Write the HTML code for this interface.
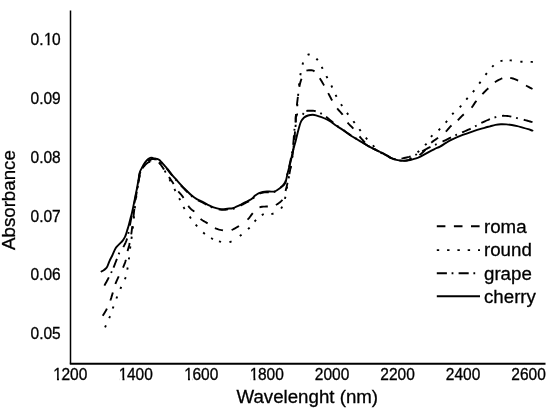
<!DOCTYPE html>
<html><head><meta charset="utf-8"><title>Absorbance spectra</title>
<style>html,body{margin:0;padding:0;background:#fff;}body{width:550px;height:413px;overflow:hidden;}svg{display:block;}</style>
</head><body>
<svg width="550" height="413" viewBox="0 0 550 413">
<g fill="none" stroke="#000" stroke-width="1.90" stroke-linejoin="round">
<path d="M105.06,327.41 105.61,326.15 105.95,325.40 M109.18,318.22 109.76,316.81 110.00,316.18 M112.73,308.53 113.25,307.09 113.48,306.47 M116.40,298.53 116.96,297.09 117.20,296.48 M120.36,288.91 120.98,287.50 121.26,286.90 M124.91,279.23 125.44,277.80 125.64,277.15 M127.30,269.68 127.58,268.19 127.70,267.52 M128.86,259.49 129.06,257.96 129.13,257.31 M130.07,248.59 130.25,247.07 130.34,246.41 M131.45,238.79 131.65,237.29 131.74,236.61 M132.72,228.65 132.89,227.24 132.98,226.46 M133.85,218.49 134.02,216.82 134.07,216.30 M134.84,208.31 134.96,207.10 135.06,206.12 M136.05,198.16 136.27,196.61 136.36,195.98 M137.57,188.05 137.80,186.69 137.94,185.88 M139.22,177.96 139.42,176.61 139.57,175.79 M142.50,168.36 143.17,167.18 143.61,166.47 M149.23,160.87 150.41,160.48 151.35,160.32 M158.93,162.28 159.87,163.15 160.49,163.82 M164.69,170.63 165.35,171.88 165.73,172.56 M169.48,179.33 170.20,180.69 170.51,181.28 M174.40,189.02 175.10,190.39 175.40,190.98 M179.20,198.22 179.88,199.56 180.19,200.19 M183.49,207.05 184.25,208.37 184.60,208.95 M189.66,216.63 190.46,217.77 190.93,218.43 M195.68,224.68 196.59,225.73 197.13,226.34 M203.17,232.48 204.33,233.47 204.85,233.90 M211.07,238.10 212.34,238.77 213.03,239.11 M218.94,241.29 220.28,241.68 221.06,241.88 M229.45,242.10 230.81,241.73 231.55,241.45 M239.84,236.07 240.80,235.30 241.56,234.69 M248.06,229.12 249.20,227.99 249.61,227.55 M254.54,221.50 255.59,220.41 256.09,219.93 M261.81,215.16 262.95,214.46 263.74,214.12 M271.35,213.94 272.71,213.75 273.50,213.52 M281.06,208.54 281.80,207.40 282.19,206.66 M284.93,198.87 285.31,197.33 285.45,196.73 M286.81,188.66 287.06,187.01 287.15,186.48 M288.65,178.43 288.92,177.04 289.06,176.27 M290.56,168.23 290.81,166.78 290.93,166.06 M292.14,157.96 292.32,156.63 292.44,155.78 M293.45,147.66 293.64,146.02 293.71,145.47 M294.57,137.33 294.73,135.65 294.78,135.14 M295.50,126.99 295.64,125.40 295.68,124.79 M296.33,116.63 296.46,114.97 296.51,114.44 M297.24,106.28 297.36,104.92 297.43,104.09 M298.07,95.93 298.20,94.40 298.26,93.74 M298.98,85.58 299.15,84.08 299.23,83.40 M300.32,75.28 300.58,73.77 300.69,73.12 M302.50,64.63 302.90,63.22 303.12,62.52 M307.61,54.97 308.75,54.46 309.69,54.36 M316.40,58.55 317.30,59.67 317.75,60.29 M321.67,66.84 322.40,68.17 322.72,68.77 M326.40,76.12 327.10,77.49 327.41,78.08 M331.31,85.52 331.99,86.89 332.28,87.49 M335.60,94.82 336.31,96.19 336.62,96.77 M341.01,104.17 341.84,105.47 342.20,106.02 M346.95,112.91 347.86,114.15 348.25,114.68 M353.33,121.23 354.26,122.44 354.66,122.98 M359.34,129.22 360.26,130.44 360.66,130.98 M365.80,137.66 366.79,138.83 367.22,139.33 M372.83,145.31 373.86,146.37 374.36,146.89 M380.40,152.41 381.63,153.07 382.36,153.41 M389.58,157.28 390.75,157.88 391.55,158.26 M399.38,160.55 400.77,160.61 401.58,160.61 M409.54,158.95 410.65,158.37 411.47,157.89 M417.57,152.44 418.50,151.51 419.12,150.88 M425.07,145.24 425.90,144.30 426.48,143.55 M430.94,136.98 431.88,135.89 432.42,135.36 M438.55,130.20 439.61,129.20 440.13,128.68 M445.68,122.63 446.68,121.47 447.10,120.95 M452.17,114.42 453.20,113.28 453.66,112.81 M459.73,107.28 460.79,106.19 461.25,105.69 M466.29,99.65 467.27,98.48 467.72,97.97 M472.90,92.05 473.87,90.86 474.28,90.34 M479.25,83.59 480.16,82.34 480.55,81.81 M485.53,74.87 486.47,73.65 486.88,73.14 M492.15,66.91 493.12,65.87 493.66,65.31 M500.44,61.18 501.69,60.85 502.57,60.66 M509.60,60.33 510.91,60.42 511.80,60.49 M520.32,61.59 521.62,61.72 522.51,61.78 M530.60,61.90 531.85,61.90 532.80,61.93" />
<path d="M102.70,315.80 103.38,314.71 104.19,313.44 104.91,312.26 105.64,311.01 106.34,309.72 106.91,308.54 M110.30,300.50 110.76,299.30 111.18,298.11 111.57,296.81 112.00,295.40 112.35,294.24 112.74,292.88 112.85,292.50 M115.40,284.00 115.89,282.65 116.34,281.53 116.88,280.31 117.46,279.08 118.00,277.95 118.64,276.59 118.77,276.31 M123.00,267.60 123.56,266.33 124.04,265.23 124.57,263.95 125.04,262.64 125.41,261.46 125.79,260.08 125.88,259.72 M127.60,251.10 127.91,249.82 128.29,248.43 128.66,247.14 129.03,245.78 129.33,244.54 129.63,243.10 129.66,242.96 M131.20,234.40 131.41,233.05 131.59,231.81 131.78,230.36 131.96,228.91 132.12,227.67 132.29,226.33 132.32,226.08 M133.39,217.23 133.57,215.69 133.72,214.40 133.87,213.04 134.03,211.63 134.20,210.19 134.35,208.88 M135.48,200.04 135.68,198.65 135.93,197.08 136.17,195.56 136.41,194.10 136.65,192.70 136.81,191.75 M138.34,182.97 138.58,181.67 138.81,180.34 139.01,179.07 139.19,177.87 139.42,176.43 139.71,175.06 139.80,174.70 M143.80,166.77 144.62,165.65 145.48,164.63 146.35,163.76 147.35,162.94 148.48,162.26 149.69,161.88 150.24,161.83 M158.96,162.98 159.97,163.77 160.78,164.68 161.48,165.66 162.18,166.74 162.88,167.83 163.58,168.87 164.04,169.59 M169.00,177.00 169.75,178.11 170.53,179.25 171.35,180.44 172.02,181.46 172.72,182.52 173.46,183.69 173.65,184.00 M178.29,191.33 179.13,192.33 180.06,193.34 180.90,194.30 181.69,195.26 182.48,196.35 183.25,197.55 183.48,197.91 M188.23,205.83 188.99,206.84 189.87,207.87 190.83,208.85 191.76,209.74 192.85,210.46 193.84,211.16 194.28,211.58 M200.55,218.93 201.69,219.82 202.73,220.50 203.79,221.11 204.88,221.71 206.01,222.35 207.20,223.10 207.65,223.39 M214.90,228.10 216.28,228.68 217.71,229.16 219.14,229.56 220.52,229.90 221.79,230.17 222.96,230.41 M231.60,230.00 232.74,229.51 234.01,228.87 235.39,228.14 236.45,227.53 237.52,226.90 238.58,226.25 238.98,226.00 M247.50,219.69 248.53,218.68 249.48,217.56 250.28,216.47 251.02,215.42 251.80,214.40 252.60,213.40 252.78,213.17 M259.50,207.30 260.70,207.00 262.06,206.80 263.49,206.67 264.88,206.58 266.14,206.48 267.49,206.43 267.83,206.43 M275.90,205.00 277.12,204.29 278.18,203.59 279.25,202.81 280.28,201.98 281.21,201.13 282.14,200.08 282.37,199.75 M285.57,190.99 285.86,189.77 286.15,188.60 286.45,187.39 286.76,186.10 287.09,184.71 287.37,183.48 287.52,182.82 M289.38,174.09 289.66,172.63 289.88,171.43 290.11,170.20 290.33,168.95 290.55,167.67 290.78,166.35 290.86,165.83 M292.24,157.01 292.44,155.60 292.66,154.04 292.87,152.48 293.07,150.91 293.27,149.34 293.35,148.68 M294.32,139.81 294.47,138.22 294.57,137.01 294.68,135.77 294.79,134.52 294.89,133.26 294.99,131.99 295.03,131.44 M295.66,122.53 295.73,121.21 295.80,119.93 295.87,118.65 295.93,117.38 296.00,116.12 296.07,114.86 296.11,114.15 M296.87,105.25 297.04,103.77 297.23,102.14 297.43,100.54 297.63,98.96 297.83,97.41 297.90,96.92 M299.35,86.84 299.60,85.50 299.91,84.06 300.24,82.78 300.57,81.62 300.99,80.28 301.43,79.01 301.52,78.74 M306.43,70.69 307.72,70.35 308.95,70.23 310.15,70.18 311.35,70.16 312.55,70.32 313.75,70.86 314.46,71.39 M319.80,78.20 320.54,79.40 321.17,80.44 321.82,81.54 322.49,82.68 323.18,83.88 323.88,85.11 324.06,85.44 M328.20,93.10 328.86,94.34 329.47,95.51 330.06,96.66 330.66,97.80 331.29,98.97 332.00,100.20 332.18,100.50 M337.20,108.40 338.07,109.50 338.94,110.49 339.81,111.41 340.68,112.33 341.54,113.31 342.40,114.40 342.66,114.77 M347.54,122.57 348.49,123.69 349.38,124.60 350.28,125.45 351.20,126.32 352.16,127.28 353.16,128.40 353.35,128.62 M359.50,136.30 360.35,137.35 361.18,138.38 362.08,139.43 363.07,140.50 364.08,141.62 364.97,142.58 365.01,142.63 M371.94,147.97 373.23,148.65 374.40,149.27 375.55,149.85 376.70,150.40 377.84,150.93 378.97,151.49 379.45,151.73 M387.21,155.86 388.35,156.51 389.44,157.11 390.75,157.78 391.97,158.35 393.13,158.85 394.26,159.29 394.78,159.47 M403.43,160.76 404.65,160.65 406.03,160.45 407.40,160.20 408.75,159.90 410.10,159.54 411.45,159.11 411.63,159.04 M419.43,155.04 420.61,154.18 421.76,153.27 422.86,152.30 423.90,151.29 424.87,150.16 425.52,149.32 M431.22,142.65 432.20,141.88 433.28,141.13 434.46,140.33 435.50,139.63 436.61,138.84 437.83,137.92 438.05,137.76 M445.80,131.60 446.81,130.63 447.63,129.72 448.52,128.64 449.41,127.56 450.23,126.67 451.22,125.72 451.51,125.46 M457.80,120.20 458.78,119.27 459.65,118.39 460.48,117.52 461.33,116.63 462.25,115.70 463.30,114.70 463.76,114.29 M471.50,107.60 472.42,106.55 473.14,105.57 473.90,104.38 474.65,103.17 475.37,102.15 476.27,101.03 476.44,100.83 M482.40,94.20 483.35,93.18 484.23,92.26 485.07,91.39 485.92,90.54 486.82,89.65 487.80,88.70 488.30,88.22 M494.90,82.20 495.98,81.44 497.03,80.79 498.31,80.10 499.52,79.51 500.68,79.00 501.95,78.47 502.33,78.33 M510.20,77.80 511.49,78.11 512.91,78.50 514.11,78.88 515.36,79.34 516.64,79.89 517.98,80.55 518.09,80.61 M526.00,85.50 527.29,86.23 528.57,86.93 529.79,87.58 530.90,88.16 532.01,88.74 532.50,89.00" />
<path d="M104.40,285.60 105.10,284.33 105.79,283.05 106.41,281.92 107.02,280.78 107.60,279.70 108.29,278.39 108.85,277.32 M111.07,272.95 111.69,271.68 111.85,271.33 M113.50,267.60 114.03,266.29 114.61,264.83 115.06,263.67 115.51,262.49 115.96,261.34 116.52,259.88 116.92,258.84 M118.61,254.24 119.17,253.04 119.40,252.63 M123.30,247.10 123.90,246.03 124.48,244.91 125.04,243.77 125.57,242.61 126.06,241.45 126.50,240.30 126.89,239.16 127.08,238.52 M128.24,233.76 128.53,232.48 128.63,232.00 M129.87,225.55 130.10,224.25 130.36,222.85 130.62,221.46 130.87,220.13 131.12,218.91 131.41,217.61 131.69,216.39 131.70,216.33 M132.74,211.54 133.07,209.90 133.09,209.78 M134.36,203.34 134.60,202.09 134.90,200.50 135.19,199.02 135.46,197.55 135.72,196.11 135.97,194.70 136.08,194.10 M136.95,189.28 137.22,187.81 137.28,187.51 M138.50,181.06 138.71,179.86 138.91,178.61 139.09,177.40 139.32,175.95 139.61,174.56 139.99,173.24 140.47,172.00 140.51,171.91 M142.83,167.59 143.55,166.37 143.75,166.04 M147.90,160.99 148.86,160.23 149.92,159.55 151.07,159.06 152.33,158.95 153.56,159.14 154.84,159.26 156.07,159.40 156.67,159.55 M160.79,162.01 161.61,162.91 162.00,163.34 M166.35,168.25 167.15,169.21 167.97,170.21 168.88,171.37 169.66,172.38 170.46,173.43 171.28,174.49 172.10,175.51 172.19,175.62 M175.41,179.31 176.38,180.38 176.62,180.64 M181.01,185.52 182.00,186.59 183.01,187.64 184.03,188.68 185.06,189.70 186.08,190.71 187.10,191.70 187.62,192.21 M191.13,195.63 192.10,196.46 192.50,196.79 M197.98,200.37 199.16,200.87 200.27,201.38 201.34,201.92 202.48,202.50 203.64,203.10 204.79,203.70 205.94,204.33 206.38,204.58 M210.74,206.82 212.01,207.36 212.40,207.51 M218.68,209.38 219.99,209.62 221.30,209.81 222.61,209.90 223.92,209.85 225.23,209.69 226.59,209.50 227.83,209.36 228.01,209.35 M232.88,208.88 234.13,208.50 234.59,208.30 M240.53,205.53 241.77,204.91 242.96,204.29 244.14,203.67 245.25,203.08 246.42,202.49 247.62,201.92 248.77,201.34 248.91,201.26 M252.99,198.56 253.90,197.61 254.22,197.25 M259.60,193.58 260.83,193.19 262.09,192.86 263.32,192.59 264.54,192.40 265.77,192.27 267.00,192.20 268.27,192.23 268.84,192.27 M273.71,192.12 274.98,191.67 275.38,191.46 M280.61,187.51 281.52,186.69 282.43,185.82 283.34,184.83 284.08,183.85 284.82,182.75 285.43,181.58 285.87,180.37 285.99,179.98 M287.11,175.21 287.43,173.81 287.51,173.45 M289.05,167.07 289.37,165.68 289.66,164.37 289.95,163.06 290.23,161.73 290.51,160.38 290.79,159.03 291.02,157.88 M291.99,153.08 292.24,151.71 292.31,151.31 M293.15,144.80 293.28,143.50 293.39,142.29 293.53,140.74 293.66,139.27 293.78,137.84 293.87,136.43 293.94,135.43 M294.35,130.55 294.51,129.24 294.57,128.76 M295.70,122.30 295.72,121.09 295.65,119.81 295.58,118.57 295.61,117.35 295.80,116.11 296.28,114.94 297.44,114.38 298.02,114.37 M302.64,114.59 303.40,113.61 303.72,113.16 M306.38,110.98 307.73,110.77 309.03,110.71 310.33,110.70 311.64,110.68 312.92,110.71 314.19,110.90 315.51,111.25 315.69,111.31 M320.25,113.08 321.39,113.67 321.84,113.92 M326.00,116.80 327.05,117.61 328.20,118.53 329.39,119.49 330.54,120.45 331.60,121.34 332.69,122.26 333.26,122.77 M337.03,125.87 338.15,126.58 338.55,126.83 M343.44,130.11 344.44,130.83 345.59,131.65 346.73,132.46 347.85,133.27 348.98,134.08 350.10,134.88 351.09,135.57 M355.29,138.09 356.49,138.77 356.86,138.98 M361.88,142.04 363.03,142.74 364.17,143.44 365.32,144.15 366.47,144.84 367.62,145.52 368.75,146.15 369.88,146.73 369.99,146.79 M374.39,148.94 375.53,149.50 376.01,149.73 M381.28,152.36 382.51,152.99 383.64,153.59 384.85,154.23 386.15,154.96 387.24,155.59 388.35,156.22 389.44,156.82 389.52,156.86 M393.99,158.88 395.19,159.26 395.71,159.38 M401.48,158.58 402.78,158.32 404.14,158.02 405.46,157.73 406.67,157.45 407.88,157.17 409.19,156.84 410.46,156.46 410.62,156.41 M415.29,154.92 416.60,154.40 416.95,154.24 M422.26,151.32 423.42,150.67 424.62,149.99 425.86,149.28 427.10,148.58 428.33,147.91 429.50,147.30 430.50,146.82 M435.01,144.88 436.17,144.38 436.66,144.17 M442.56,141.62 443.90,140.98 445.29,140.30 446.73,139.59 448.14,138.88 449.48,138.20 450.70,137.60 450.99,137.46 M455.38,135.28 456.68,134.69 457.02,134.54 M462.09,132.45 463.47,131.85 464.87,131.25 466.34,130.62 467.79,129.98 469.17,129.37 470.40,128.80 470.69,128.66 M475.05,126.41 476.24,125.75 476.62,125.54 M481.30,122.90 482.60,122.29 483.70,121.79 484.86,121.27 486.05,120.75 487.22,120.25 488.34,119.78 489.70,119.22 489.91,119.14 M494.52,117.47 495.75,117.13 496.26,117.00 M502.00,115.90 503.37,115.81 504.64,115.83 506.03,115.92 507.38,116.03 508.59,116.14 509.94,116.34 511.30,116.60 511.34,116.61 M516.08,117.87 517.30,118.20 517.82,118.33 M523.73,119.78 525.00,120.11 526.19,120.41 527.48,120.76 528.78,121.12 530.08,121.49 531.32,121.86 532.50,122.20" />
<path d="M101.5,271.5 C101.9,271.2 103.2,270.6 104.0,270.0 C104.8,269.4 105.6,268.9 106.2,268.2 C106.8,267.5 107.0,267.0 107.6,265.8 C108.2,264.6 108.8,262.6 109.6,260.8 C110.4,259.0 111.5,257.1 112.5,255.0 C113.5,252.9 114.5,250.0 115.6,248.2 C116.7,246.4 118.1,245.5 119.3,244.2 C120.5,242.9 121.9,241.6 122.9,240.3 C123.9,239.0 124.5,237.8 125.1,236.6 C125.7,235.4 126.0,234.2 126.4,233.0 C126.8,231.8 127.1,230.7 127.5,229.4 C127.9,228.1 128.3,226.9 128.8,225.0 C129.3,223.1 130.1,220.1 130.6,218.0 C131.1,215.9 131.3,215.8 132.0,212.7 C132.7,209.6 133.9,203.6 134.7,199.6 C135.5,195.6 136.3,192.0 136.9,188.7 C137.5,185.4 138.0,182.7 138.5,180.0 C139.0,177.3 139.0,174.7 139.7,172.5 C140.3,170.3 141.5,168.7 142.4,167.0 C143.3,165.3 144.3,163.5 145.3,162.2 C146.3,160.9 147.2,159.8 148.2,159.0 C149.2,158.2 150.2,157.7 151.1,157.6 C152.0,157.5 152.7,158.1 153.5,158.3 C154.3,158.5 155.3,158.3 156.2,158.6 C157.1,158.8 158.2,159.2 159.1,159.8 C159.9,160.4 160.5,161.1 161.3,162.0 C162.2,162.9 163.1,164.0 164.2,165.2 C165.2,166.4 166.2,167.5 167.6,169.2 C169.0,170.9 170.8,173.4 172.4,175.3 C174.0,177.2 175.7,179.0 177.3,180.8 C178.9,182.6 180.5,184.4 182.1,186.1 C183.7,187.8 185.4,189.4 187.0,191.0 C188.6,192.6 190.2,194.3 191.8,195.6 C193.4,196.9 195.0,198.1 196.4,198.9 C197.8,199.7 198.7,199.9 200.0,200.6 C201.3,201.3 203.0,202.1 204.5,202.9 C206.0,203.7 207.6,204.7 209.1,205.4 C210.6,206.1 212.1,206.8 213.6,207.3 C215.1,207.8 216.7,208.3 218.2,208.6 C219.7,208.9 221.2,209.2 222.7,209.2 C224.2,209.2 225.6,208.9 227.3,208.7 C229.0,208.5 231.2,208.5 232.7,208.2 C234.2,207.9 235.0,207.3 236.4,206.7 C237.8,206.1 239.4,205.3 240.9,204.6 C242.4,203.8 244.1,202.9 245.5,202.2 C246.9,201.5 247.9,201.1 249.1,200.4 C250.3,199.7 251.5,199.0 252.5,198.2 C253.5,197.4 254.1,196.4 255.1,195.6 C256.1,194.8 257.2,193.9 258.5,193.3 C259.8,192.7 261.3,192.3 262.7,192.0 C264.1,191.7 265.5,191.5 266.9,191.4 C268.3,191.3 269.9,191.6 271.2,191.6 C272.5,191.6 273.5,191.8 274.6,191.4 C275.7,191.1 276.9,190.2 278.0,189.5 C279.1,188.8 280.4,187.8 281.4,187.0 C282.4,186.2 283.2,185.8 283.9,184.9 C284.6,184.1 285.0,183.7 285.6,181.9 C286.2,180.1 286.8,176.8 287.4,174.2 C288.0,171.6 288.8,169.1 289.4,166.5 C290.0,163.9 290.7,161.4 291.3,158.7 C291.9,155.9 292.5,152.8 293.2,150.0 C293.9,147.2 294.7,144.6 295.4,142.0 C296.1,139.4 296.7,136.7 297.3,134.2 C297.9,131.7 298.6,129.2 299.2,127.0 C299.8,124.8 300.4,122.8 301.2,121.2 C302.0,119.6 303.0,118.5 304.1,117.5 C305.2,116.5 306.6,116.0 308.0,115.5 C309.4,115.0 311.5,114.8 312.8,114.8 C314.1,114.8 314.6,114.9 316.0,115.3 C317.4,115.7 319.7,116.4 321.5,117.1 C323.3,117.8 325.3,118.7 326.9,119.5 C328.5,120.3 329.5,120.8 330.9,121.8 C332.3,122.8 333.8,124.1 335.5,125.2 C337.2,126.3 339.1,127.4 340.9,128.6 C342.7,129.8 344.6,131.2 346.4,132.5 C348.2,133.8 350.0,135.1 351.8,136.3 C353.6,137.5 355.5,138.4 357.3,139.5 C359.1,140.6 360.9,141.7 362.7,142.8 C364.5,143.9 366.4,145.1 368.2,146.1 C370.0,147.1 371.8,147.9 373.6,148.8 C375.4,149.7 377.3,150.6 379.1,151.5 C380.9,152.4 382.5,153.2 384.5,154.3 C386.5,155.4 388.9,156.9 390.9,157.8 C392.9,158.7 394.6,159.4 396.4,159.9 C398.2,160.4 400.0,160.7 401.8,160.8 C403.6,160.9 405.5,160.8 407.3,160.5 C409.1,160.2 410.9,159.8 412.7,159.3 C414.5,158.8 416.4,158.3 418.2,157.6 C420.0,156.8 421.8,155.8 423.6,154.8 C425.4,153.8 427.3,152.8 429.1,151.8 C430.9,150.9 432.7,150.0 434.5,149.1 C436.3,148.2 438.1,147.6 440.0,146.6 C441.9,145.6 444.0,144.1 446.0,142.9 C448.0,141.7 449.0,140.9 451.8,139.6 C454.6,138.3 459.1,136.3 462.7,134.9 C466.3,133.5 470.0,132.3 473.6,131.1 C477.2,129.9 481.8,128.6 484.5,127.8 C487.2,127.0 488.2,126.8 490.0,126.3 C491.8,125.8 493.7,125.2 495.5,124.9 C497.3,124.6 499.1,124.4 500.9,124.3 C502.7,124.2 504.6,124.3 506.4,124.4 C508.2,124.5 510.0,124.7 511.8,125.0 C513.6,125.3 515.5,125.7 517.3,126.1 C519.1,126.5 520.9,127.1 522.7,127.6 C524.5,128.1 526.6,128.7 528.2,129.2 C529.8,129.7 531.8,130.4 532.5,130.6" stroke-linecap="round" />
</g>
<path d="M70.5,10.6 V363.7" fill="none" stroke="#000" stroke-width="1.5"/>
<path d="M69.8,363.75 H545.5" fill="none" stroke="#000" stroke-width="1.8"/>
<g font-family='"Liberation Sans", Arial, sans-serif' font-size="15.5" fill="#000" stroke="#000" stroke-width="0.3">
<g transform="translate(30.54,45.20) scale(1,1.03)"><text x="0" y="0">0.<tspan dx="0.50">1</tspan><tspan dx="-0.50">0</tspan></text><g fill="#fff" stroke="none"><rect x="13.89" y="-2.41" width="3.14" height="3.21"/><rect x="19.03" y="-2.41" width="2.46" height="3.21"/></g></g>
<g transform="translate(30.54,104.00) scale(1,1.03)"><text x="0" y="0">0.09</text></g>
<g transform="translate(30.54,162.80) scale(1,1.03)"><text x="0" y="0">0.08</text></g>
<g transform="translate(30.54,221.60) scale(1,1.03)"><text x="0" y="0">0.07</text></g>
<g transform="translate(30.54,280.40) scale(1,1.03)"><text x="0" y="0">0.06</text></g>
<g transform="translate(30.54,339.20) scale(1,1.03)"><text x="0" y="0">0.05</text></g>
<g transform="translate(52.86,380.40) scale(1,1.03)"><text x="0" y="0"><tspan dx="0.50">1</tspan><tspan dx="-0.50">2</tspan>00</text><g fill="#fff" stroke="none"><rect x="0.96" y="-2.41" width="3.14" height="3.21"/><rect x="6.10" y="-2.41" width="2.46" height="3.21"/></g></g>
<g transform="translate(118.36,380.40) scale(1,1.03)"><text x="0" y="0"><tspan dx="0.50">1</tspan><tspan dx="-0.50">4</tspan>00</text><g fill="#fff" stroke="none"><rect x="0.96" y="-2.41" width="3.14" height="3.21"/><rect x="6.10" y="-2.41" width="2.46" height="3.21"/></g></g>
<g transform="translate(183.86,380.40) scale(1,1.03)"><text x="0" y="0"><tspan dx="0.50">1</tspan><tspan dx="-0.50">6</tspan>00</text><g fill="#fff" stroke="none"><rect x="0.96" y="-2.41" width="3.14" height="3.21"/><rect x="6.10" y="-2.41" width="2.46" height="3.21"/></g></g>
<g transform="translate(249.36,380.40) scale(1,1.03)"><text x="0" y="0"><tspan dx="0.50">1</tspan><tspan dx="-0.50">8</tspan>00</text><g fill="#fff" stroke="none"><rect x="0.96" y="-2.41" width="3.14" height="3.21"/><rect x="6.10" y="-2.41" width="2.46" height="3.21"/></g></g>
<g transform="translate(314.86,380.40) scale(1,1.03)"><text x="0" y="0">2000</text></g>
<g transform="translate(380.36,380.40) scale(1,1.03)"><text x="0" y="0">2200</text></g>
<g transform="translate(445.86,380.40) scale(1,1.03)"><text x="0" y="0">2400</text></g>
<g transform="translate(511.36,380.40) scale(1,1.03)"><text x="0" y="0">2600</text></g>
</g>
<text x="307.3" y="403.2" font-family='"Liberation Sans", Arial, sans-serif' font-size="18.7" stroke="#000" stroke-width="0.3" text-anchor="middle">Wavelenght (nm)</text>
<text transform="translate(15.4,200.1) rotate(-90)" font-family='"Liberation Sans", Arial, sans-serif' font-size="18.7" stroke="#000" stroke-width="0.3" text-anchor="middle">Absorbance</text>
<g fill="none" stroke="#000" stroke-width="1.9">
<path d="M436.8,226.2 H480" stroke-dasharray="8.6 8.5"/>
<path d="M436.8,250.1 H480" stroke-dasharray="2.4 7.9"/>
<path d="M436.8,273.3 H480" stroke-dasharray="10.1 4.7 1.8 5.2"/>
<path d="M436.8,296.2 H480"/>
</g>
<g font-family='"Liberation Sans", Arial, sans-serif' font-size="18.7" fill="#000" stroke="#000" stroke-width="0.3">
<text x="484" y="233.0">roma</text>
<text x="484" y="256.1">round</text>
<text x="484" y="279.5">grape</text>
<text x="484" y="302.6">cherry</text>
</g>
</svg>
</body></html>
